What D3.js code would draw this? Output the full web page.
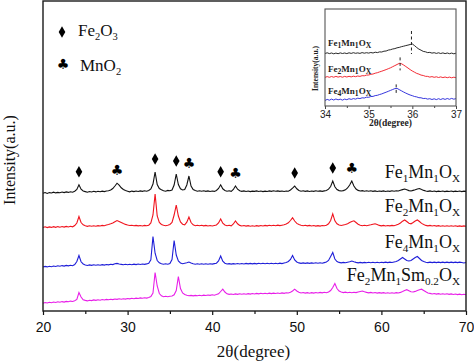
<!DOCTYPE html>
<html>
<head>
<meta charset="utf-8">
<script src="https://cdn.jsdelivr.net/npm/d3@7"></script>
<style>
  body { margin: 0; background: #fff; }
  svg { display: block; }
</style>
</head>
<body>
<div id="dataviz"></div>
<script>
// data: intensities (a.u.) on a 0.25 degree grid, 20..70
const angles = d3.range(20, 70.001, 0.25);

const fe1mn1 = [
  1178,1185,1176,1184,1180,1188,1181,1186,1183,1190,1184,1191,1186,1193,1188,1198,1215,1262,1218,1200,
  1194,1188,1195,1190,1197,1191,1198,1193,1199,1194,1200,1202,1210,1225,1250,1278,1258,1232,1215,1204,
  1198,1192,1199,1194,1200,1195,1201,1196,1202,1197,1205,1220,1270,1390,1265,1225,1212,1203,1198,1206,
  1202,1210,1260,1370,1265,1222,1210,1215,1260,1350,1250,1215,1204,1198,1203,1197,1202,1196,1201,1195,
  1200,1196,1205,1225,1262,1222,1205,1198,1202,1197,1215,1250,1218,1202,1196,1201,1195,1200,1194,1199,
  1196,1201,1195,1200,1194,1199,1195,1201,1196,1202,1197,1201,1196,1200,1195,1200,1198,1210,1228,1250,
  1222,1205,1198,1202,1196,1201,1195,1200,1196,1202,1197,1201,1196,1201,1205,1218,1245,1300,1242,1215,
  1204,1200,1204,1212,1230,1260,1300,1250,1220,1206,1200,1204,1198,1203,1197,1202,1196,1201,1195,1200,
  1196,1201,1195,1200,1196,1202,1198,1203,1200,1208,1214,1220,1212,1204,1200,1206,1212,1220,1225,1215,
  1206,1200,1196,1201,1195,1200,1194,1199,1195,1200,1194,1199,1195,1200,1194,1199,1195,1200,1194,1199,1196
];
const fe2mn1 = [
  835,842,834,841,836,843,837,844,838,845,839,846,840,847,842,855,880,945,885,862,
  852,846,852,847,853,848,854,850,856,853,860,865,872,880,893,905,896,885,874,866,
  860,855,858,852,856,851,855,850,856,852,858,880,960,1170,950,885,866,858,853,858,
  865,885,960,1060,950,890,868,862,888,940,885,862,853,858,852,857,851,856,850,855,
  850,855,860,880,920,878,860,853,857,852,870,900,872,856,850,855,849,854,848,853,
  848,854,849,855,850,856,851,857,852,858,853,859,854,858,862,870,882,905,932,900,
  876,864,857,852,857,851,856,850,855,849,854,849,855,852,858,872,905,972,902,872,
  860,855,860,865,872,885,895,902,885,868,858,853,858,852,857,862,868,872,865,856,
  851,856,850,855,851,856,853,860,868,880,898,910,895,878,872,885,900,910,895,876,
  865,856,851,856,850,855,849,854,848,853,848,853,847,852,847,852,846,851,846,851,847
];
const fe4mn1 = [
  440,446,441,448,443,450,445,452,447,454,449,456,451,457,453,465,495,555,492,470,
  460,455,461,456,462,457,463,458,464,459,465,461,467,464,472,476,470,466,462,467,
  463,468,463,469,464,470,465,470,466,471,478,512,745,578,505,482,472,467,472,468,
  475,515,705,560,500,480,473,478,482,490,480,472,467,472,467,472,467,473,468,473,
  469,474,478,500,550,498,478,470,474,469,474,470,475,470,475,470,476,471,476,471,
  476,471,477,472,477,472,477,472,478,473,478,473,479,474,480,485,495,515,555,510,
  490,481,476,481,476,481,476,481,477,482,477,482,478,484,490,505,545,585,520,495,
  486,481,486,482,488,493,500,492,486,481,486,481,486,482,487,482,487,483,488,483,
  488,484,489,484,489,485,490,495,505,520,535,520,505,500,505,520,535,545,525,505,
  495,488,484,489,484,489,484,489,484,489,484,489,484,489,484,489,484,489,485,480,485
];
const fe2mn1sm = [
  78,85,80,88,83,90,85,92,87,94,89,96,92,99,95,102,115,185,140,112,
  106,101,108,104,111,106,112,108,115,110,116,112,118,114,120,116,122,117,123,119,
  125,121,127,123,129,125,131,127,133,129,135,145,180,385,250,175,152,143,147,142,
  147,150,162,205,345,225,180,165,158,152,156,151,156,152,158,153,159,155,160,156,
  162,158,164,172,195,218,190,172,166,170,165,171,166,172,167,173,168,174,169,175,
  170,176,171,177,172,178,173,179,174,179,175,180,175,181,176,182,180,188,200,218,
  200,188,180,185,179,184,178,184,179,185,180,186,181,187,182,190,205,235,275,225,
  200,190,184,189,183,188,182,188,184,190,195,200,192,186,181,186,180,185,179,184,
  179,184,178,183,178,183,178,184,180,186,195,205,213,203,193,190,196,204,212,218,
  205,192,180,176,170,175,169,174,168,173,167,172,166,171,165,170,164,169,163,168,163
];

const seriesNames = [
  ["Fe", "_1", "Mn", "_1", "O", "_X"],
  ["Fe", "_2", "Mn", "_1", "O", "_X"],
  ["Fe", "_4", "Mn", "_1", "O", "_X"],
  ["Fe", "_2", "Mn", "_1", "Sm", "_0.2", "O", "_X"]
];
const seriesColors = ["#111111", "#f0141e", "#1f1fd8", "#e81ee8"];

const fe2o3Peaks = [24.25, 33.25, 35.75, 41.0, 49.75, 54.25];
const mno2Peaks = [28.75, 37.25, 42.75, 56.5];

const xTicks = [20, 30, 40, 50, 60, 70];
const xMinorTicks = [25, 35, 45, 55, 65];

// inset: 34..37 degrees on a 0.05 grid
const insetAngles = d3.range(34, 37.001, 0.05);
const insetFe1 = [
  52.5,53.2,52.4,53.0,52.2,52.9,52.3,53.1,52.5,53.0,52.4,53.2,52.6,53.3,52.7,53.1,52.6,53.4,52.8,53.3,
  52.9,53.5,53.0,53.8,53.4,54.1,54.0,54.8,55.0,55.9,56.3,57.0,57.4,58.2,58.6,59.3,59.8,60.4,60.9,61.5,
  62.0,60.4,58.5,56.9,55.8,54.6,54.2,53.4,53.6,52.9,53.3,52.6,53.2,52.5,53.1,52.4,53.0,52.3,52.9,52.2,52.8
];
const insetFe2 = [
  28.6,29.4,28.7,29.5,28.8,29.6,28.9,29.5,28.8,29.6,29.0,29.7,29.1,29.8,29.3,30.0,29.6,30.3,30.2,30.9,
  31.0,31.7,32.0,32.8,33.3,34.1,34.8,35.6,36.4,37.3,38.2,39.3,40.4,41.5,42.6,42.3,41.0,39.5,38.0,36.4,
  35.0,33.8,32.6,31.9,30.9,30.5,29.7,29.6,28.9,29.4,28.7,29.2,28.5,29.1,28.4,29.0,28.3,28.9,28.2,28.8,28.3
];
const insetFe4 = [
  5.5,6.6,5.8,6.9,6.0,7.0,6.2,6.8,5.9,6.9,6.3,7.3,6.6,7.4,6.9,7.8,7.4,8.2,8.0,8.8,
  8.7,9.5,9.6,10.4,10.7,11.5,12.1,13.0,13.8,14.7,15.6,16.5,17.4,17.6,16.4,15.2,14.0,12.9,11.9,11.0,
  10.3,9.5,9.1,8.3,8.2,7.5,7.6,6.9,7.3,6.5,7.2,6.4,7.3,6.5,7.4,6.6,7.5,6.7,7.6,6.8,7.4
];
const insetPeaks = [35.98, 35.72, 35.63];
const insetTicks = [34, 35, 36, 37];
const insetMinorTicks = [34.5, 35.5, 36.5];

// margins
const W = 474, H = 363;
const margin = {top: 1, right: 8, bottom: 52, left: 43},
    width = W - margin.left - margin.right,
    height = H - margin.top - margin.bottom;

const serif = "'Liberation Serif', 'Times New Roman', serif";
const sans = "'Liberation Sans', Arial, sans-serif";

const root = d3.select("#dataviz").append("svg")
    .attr("width", W)
    .attr("height", H);

const svg = root.append("g")
    .attr("transform", `translate(${margin.left}, ${margin.top})`);

const xScale = d3.scaleLinear().domain([20, 70]).range([0, width]);
const yScale = d3.scaleLinear().domain([0, 3100]).range([height, 0]);

// writes Fe_2O_3 style labels with subscripts
function richText(sel, parts, size, shift, ratio = 0.62) {
  let down = false;
  parts.forEach(p => {
    const sub = p.startsWith("_");
    const ts = sel.append("tspan").text(sub ? p.slice(1) : p);
    if (sub) {
      ts.attr("font-size", size * ratio);
      if (!down) { ts.attr("dy", shift); down = true; }
    } else if (down) {
      ts.attr("dy", -shift); down = false;
    }
  });
}

const allSeries = [fe1mn1, fe2mn1, fe4mn1, fe2mn1sm];

const line = d3.line()
    .x((d, i) => xScale(angles[i]))
    .y(d => yScale(d));

svg.selectAll(".trace")
  .data(allSeries)
  .join("path")
    .attr("class", "trace")
    .attr("d", line)
    .attr("fill", "none")
    .attr("stroke", (d, i) => seriesColors[i])
    .attr("stroke-width", 1.1);

// series labels
const labelY = [178, 212, 248, 281];
seriesNames.forEach((parts, i) => {
  const t = svg.append("text")
      .attr("x", 417)
      .attr("y", labelY[i] - margin.top)
      .attr("text-anchor", "end")
      .attr("font-family", serif)
      .attr("font-size", 18)
      .attr("fill", "#111");
  richText(t, parts, 18, 4);
});

// phase markers above the black trace
function peakTop(deg) {
  const vals = fe1mn1.filter((v, i) => Math.abs(angles[i] - deg) <= 0.3);
  return yScale(d3.max(vals)) - 13;
}
svg.selectAll(".dia")
  .data(fe2o3Peaks)
  .join("path")
    .attr("class", "dia")
    .attr("d", d3.symbol().type(d3.symbolDiamond).size(38))
    .attr("transform", d => `translate(${xScale(d)},${peakTop(d)})`)
    .attr("fill", "#000");

svg.selectAll(".club")
  .data(mno2Peaks)
  .join("text")
    .attr("class", "club")
    .attr("x", d => xScale(d))
    .attr("y", d => peakTop(d) + 5)
    .attr("text-anchor", "middle")
    .attr("font-family", "'DejaVu Sans', sans-serif")
    .attr("font-size", 14)
    .attr("fill", "#000")
    .text("\u2663");

// legend
svg.append("path")
    .attr("d", d3.symbol().type(d3.symbolDiamond).size(38))
    .attr("transform", "translate(19,31)")
    .attr("fill", "#000");
const lg1 = svg.append("text").attr("x", 35).attr("y", 35)
    .attr("font-family", serif).attr("font-size", 17).attr("fill", "#111");
richText(lg1, ["Fe", "_2", "O", "_3"], 17, 4);

svg.append("text")
    .attr("x", 20).attr("y", 68)
    .attr("text-anchor", "middle")
    .attr("font-family", "'DejaVu Sans', sans-serif")
    .attr("font-size", 14)
    .text("\u2663");
const lg2 = svg.append("text").attr("x", 37).attr("y", 70)
    .attr("font-family", serif).attr("font-size", 17).attr("fill", "#111");
richText(lg2, ["MnO", "_2"], 17, 4);

// axes
const xAxis = svg.append("g")
    .attr("transform", `translate(0,${height})`)
    .call(d3.axisBottom(xScale).tickValues(xTicks).tickSize(4).tickSizeOuter(0).tickPadding(7));
xAxis.select(".domain").remove();
xAxis.selectAll("text").attr("font-family", sans).attr("font-size", 14).attr("fill", "#111");
xAxis.selectAll("line").attr("stroke", "#111").attr("stroke-width", 1.2);

const xMinor = svg.append("g")
    .attr("transform", `translate(0,${height})`)
    .call(d3.axisBottom(xScale).tickValues(xMinorTicks).tickSize(3).tickFormat(""));
xMinor.select(".domain").remove();
xMinor.selectAll("line").attr("stroke", "#111").attr("stroke-width", 1.2);

svg.append("rect")
    .attr("width", width)
    .attr("height", height)
    .attr("fill", "none")
    .attr("stroke", "#1a1a1a")
    .attr("stroke-width", 1.4);

root.append("text")
    .attr("x", margin.left + width / 2 - 1)
    .attr("y", 357)
    .attr("text-anchor", "middle")
    .attr("font-family", serif)
    .attr("font-size", 17)
    .attr("fill", "#111")
    .text("2\u03b8(degree)");

root.append("text")
    .attr("transform", "translate(15,160) rotate(-90)")
    .attr("text-anchor", "middle")
    .attr("font-family", serif)
    .attr("font-size", 16)
    .attr("fill", "#111")
    .text("Intensity(a.u.)");

// inset
const ins = {x: 325, y: 9, w: 131, h: 97};
const inset = root.append("g").attr("transform", `translate(${ins.x},${ins.y})`);
const xIn = d3.scaleLinear().domain([34, 37]).range([0, ins.w]);
const yIn = d3.scaleLinear().domain([0, 97]).range([ins.h, 0]);

const insetSeries = [insetFe1, insetFe2, insetFe4];
const lineIn = d3.line()
    .x((d, i) => xIn(insetAngles[i]))
    .y(d => yIn(d));

inset.selectAll(".itrace")
  .data(insetSeries)
  .join("path")
    .attr("class", "itrace")
    .attr("d", lineIn)
    .attr("fill", "none")
    .attr("stroke", (d, i) => seriesColors[i])
    .attr("stroke-width", 0.9);

// dashed peak markers
const markSpan = [[13, -10], [6, -7], [4, -7]];
insetPeaks.forEach((p, i) => {
  const top = d3.max(insetSeries[i]);
  inset.append("line")
      .attr("x1", xIn(p)).attr("x2", xIn(p))
      .attr("y1", yIn(top + markSpan[i][0]))
      .attr("y2", yIn(top + markSpan[i][1]))
      .attr("stroke", "#222")
      .attr("stroke-width", 1)
      .attr("stroke-dasharray", "3,2.5");
});

const insetLabelY = [37, 63, 85];
seriesNames.slice(0, 3).forEach((parts, i) => {
  const t = inset.append("text")
      .attr("x", 3)
      .attr("y", insetLabelY[i])
      .attr("font-family", serif)
      .attr("font-weight", "bold")
      .attr("font-size", 9)
      .attr("fill", "#222");
  richText(t, parts, 9, 2, 0.85);
});

const xAxisIn = inset.append("g")
    .attr("transform", `translate(0,${ins.h})`)
    .call(d3.axisBottom(xIn).tickValues(insetTicks).tickSize(3).tickSizeOuter(0).tickPadding(2).tickFormat(d3.format("d")));
xAxisIn.select(".domain").remove();
xAxisIn.selectAll("text").attr("font-family", sans).attr("font-size", 10).attr("fill", "#222");
xAxisIn.selectAll("line").attr("stroke", "#444");

const xMinorIn = inset.append("g")
    .attr("transform", `translate(0,${ins.h})`)
    .call(d3.axisBottom(xIn).tickValues(insetMinorTicks).tickSize(2).tickFormat(""));
xMinorIn.select(".domain").remove();
xMinorIn.selectAll("line").attr("stroke", "#444");

inset.append("rect")
    .attr("width", ins.w)
    .attr("height", ins.h)
    .attr("fill", "none")
    .attr("stroke", "#555")
    .attr("stroke-width", 1.1);

inset.append("text")
    .attr("x", ins.w / 2)
    .attr("y", ins.h + 20)
    .attr("text-anchor", "middle")
    .attr("font-family", serif)
    .attr("font-weight", "bold")
    .attr("font-size", 9.5)
    .attr("fill", "#222")
    .text("2\u03b8(degree)");

inset.append("text")
    .attr("transform", `translate(-7,${ins.h / 2 + 11}) rotate(-90)`)
    .attr("text-anchor", "middle")
    .attr("font-family", serif)
    .attr("font-weight", "bold")
    .attr("font-size", 7.5)
    .attr("fill", "#222")
    .text("Intensity(a.u.)");
</script>
</body>
</html>
